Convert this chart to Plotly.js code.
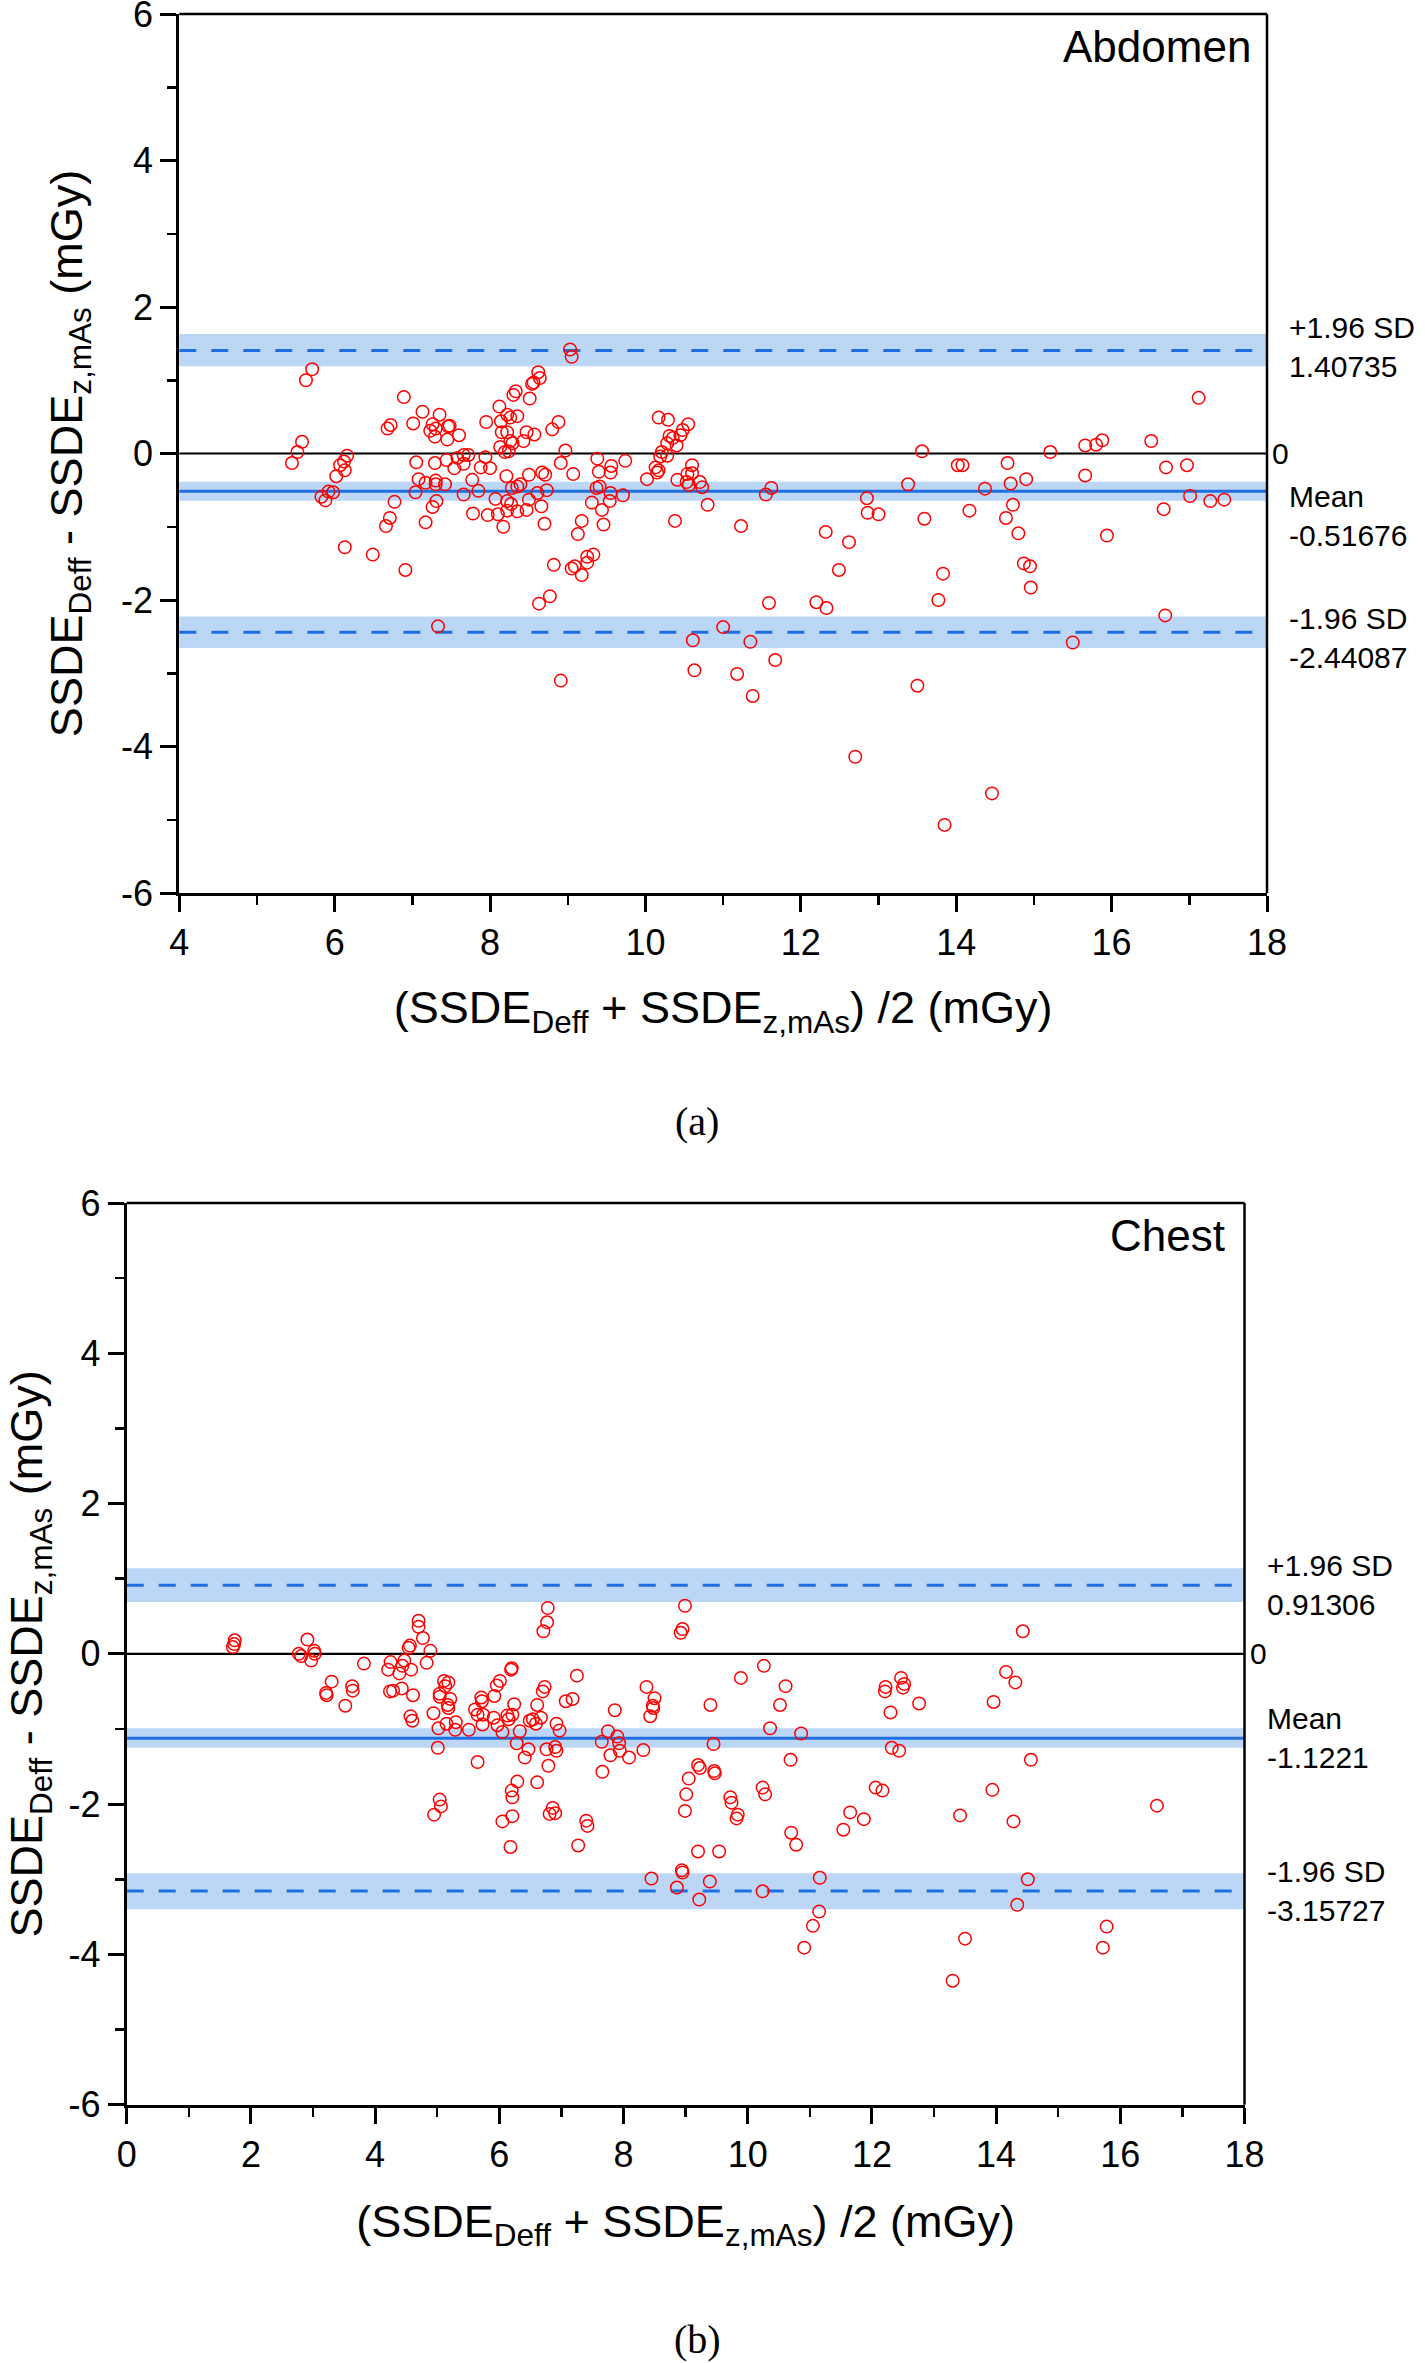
<!DOCTYPE html>
<html>
<head>
<meta charset="utf-8">
<script src="https://cdn.plot.ly/plotly-3.0.1.min.js"></script>
<style>html,body{margin:0;padding:0;background:#fff;}#chart{width:1425px;height:2363px;}</style>
</head>
<body>
<div id="chart"></div>
<script>
// ---- Abdomen (panel a) ----
const abdomenX = [9.03,9.05,5.71,5.63,6.89,7.13,7.35,7.01,6.72,6.68,7.26,7.23,7.30,7.29,7.46,7.48,7.45,7.60,5.58,5.52,5.45,6.16,6.12,6.07,6.13,6.02,5.92,5.83,5.88,5.98,7.05,7.29,7.44,7.54,7.08,7.17,7.30,7.30,7.42,7.04,6.77,7.31,7.26,6.71,6.66,7.17,6.13,6.49,6.91,7.33,7.66,7.72,7.58,7.66,7.88,7.94,8.00,7.95,8.12,8.14,8.22,8.26,8.35,8.30,8.33,8.51,8.54,8.56,8.62,8.64,8.15,8.22,8.26,8.29,8.43,8.47,8.57,8.13,8.19,8.24,8.21,8.28,8.39,8.35,8.50,8.67,8.71,8.61,8.73,8.07,8.22,8.27,8.50,8.10,8.22,8.35,8.47,7.97,7.78,8.17,8.66,8.70,7.66,7.85,7.77,8.80,8.88,8.97,8.91,9.07,9.38,9.40,9.55,9.56,9.74,9.37,9.41,9.55,9.71,9.31,9.44,9.54,9.46,9.18,9.13,8.82,9.33,9.25,9.25,9.05,9.09,9.18,8.77,8.63,8.91,
10.17,10.29,10.55,10.48,10.45,10.31,10.35,10.40,10.28,10.21,10.28,10.19,10.13,10.17,10.15,10.02,10.60,10.60,10.54,10.41,10.53,10.56,10.70,10.73,10.80,10.38,11.55,11.62,11.23,11.59,11.00,10.61,10.63,11.35,11.67,11.18,11.38,12.32,12.62,12.49,12.20,12.33,12.70,12.85,12.86,13.00,13.38,13.56,13.59,13.50,13.83,13.77,13.85,
14.02,14.08,14.66,14.37,14.70,14.90,14.17,14.73,14.64,14.80,14.87,14.95,14.96,14.46,15.21,15.66,15.80,15.88,15.66,15.94,15.50,16.51,16.70,16.97,16.67,17.01,17.27,17.45,17.12,16.69];
const abdomenY = [1.42,1.32,1.15,1.00,0.77,0.57,0.53,0.41,0.39,0.34,0.40,0.31,0.34,0.23,0.37,0.38,0.19,0.25,0.16,0.02,-0.13,-0.03,-0.11,-0.16,-0.23,-0.31,-0.52,-0.59,-0.64,-0.53,-0.12,-0.13,-0.09,-0.20,-0.35,-0.40,-0.37,-0.42,-0.42,-0.53,-0.66,-0.65,-0.73,-0.88,-0.99,-0.94,-1.28,-1.38,-1.59,-2.36,-0.02,-0.02,-0.06,-0.14,-0.19,-0.05,-0.20,0.43,0.64,0.44,0.53,0.49,0.51,0.80,0.85,0.75,0.95,0.97,1.11,1.03,0.29,0.29,0.17,0.14,0.17,0.29,0.26,0.09,0.02,0.03,-0.31,-0.47,-0.42,-0.45,-0.29,-0.26,-0.29,-0.54,-0.50,-0.62,-0.65,-0.69,-0.63,-0.83,-0.78,-0.79,-0.77,-0.84,-0.82,-1.00,-0.72,-0.96,-0.56,-0.51,-0.36,0.33,0.43,0.04,-0.13,-0.28,-0.07,-0.25,-0.26,-0.17,-0.10,-0.47,-0.45,-0.54,-0.57,-0.67,-0.77,-0.65,-0.97,-0.92,-1.10,-1.52,-1.38,-1.41,-1.49,-1.57,-1.54,-1.66,-1.95,-2.05,-3.10,
0.49,0.46,0.40,0.32,0.25,0.24,0.21,0.11,0.14,0.02,-0.03,-0.04,-0.19,-0.23,-0.26,-0.35,-0.16,-0.27,-0.28,-0.36,-0.39,-0.43,-0.39,-0.46,-0.70,-0.92,-0.56,-0.47,-0.99,-2.04,-2.37,-2.55,-2.96,-2.57,-2.82,-3.01,-3.31,-1.07,-1.21,-1.59,-2.03,-2.11,-4.14,-0.61,-0.81,-0.83,-0.42,0.03,-0.89,-3.17,-1.64,-2.00,-5.07,
-0.16,-0.16,-0.13,-0.48,-0.41,-0.35,-0.78,-0.70,-0.88,-1.09,-1.50,-1.54,-1.83,-4.64,0.02,0.11,0.12,0.18,-0.30,-1.12,-2.58,0.17,-0.19,-0.16,-0.76,-0.58,-0.65,-0.63,0.76,-2.21];
const abdomenLimits = [1.40735, -0.51676, -2.44087];           // +1.96 SD, mean, -1.96 SD
const abdomenBandLow  = [1.19, -0.645, -2.655];                // confidence band lower edge
const abdomenBandHigh = [1.63, -0.385, -2.225];                // confidence band upper edge
const abdomenLabels = ["+1.96 SD<br>1.40735", "Mean<br>-0.51676", "-1.96 SD<br>-2.44087"];

// ---- Chest (panel b) ----
const chestX = [1.74,1.73,1.71,2.91,2.77,2.81,3.02,2.97,3.03,3.82,3.30,3.21,3.22,3.63,3.64,3.52,4.25,4.21,4.47,4.44,4.39,4.58,4.54,4.56,4.70,4.70,4.77,4.89,4.83,4.24,4.29,4.43,4.61,4.57,4.60,4.94,5.02,5.01,5.04,5.11,5.18,5.04,5.13,5.21,5.17,5.18,5.15,5.30,5.29,5.51,5.04,5.06,4.95,5.71,5.72,5.61,5.65,5.74,5.73,5.92,5.96,6.01,6.19,6.20,6.24,5.91,5.97,6.05,6.13,6.15,6.21,6.33,6.28,5.65,6.29,6.20,6.21,6.21,6.05,6.18,6.41,6.47,6.49,
6.61,6.70,6.73,6.54,6.59,6.67,6.92,6.97,6.76,6.90,6.92,6.79,6.61,6.86,6.81,6.90,7.40,7.42,7.27,6.78,6.77,6.71,7.25,7.07,7.18,7.86,7.75,7.65,7.90,7.93,7.94,7.79,8.09,8.32,7.66,8.37,8.50,8.47,8.48,8.43,8.99,8.95,8.92,9.40,9.45,9.20,9.23,9.05,9.01,8.99,9.20,9.46,9.47,9.54,8.94,8.95,8.45,8.86,9.22,9.39,9.72,9.74,9.84,9.82,9.89,10.26,10.24,10.28,10.24,10.36,10.52,10.61,10.69,10.70,10.78,10.86,11.16,11.15,11.05,10.91,
14.43,14.16,14.31,13.96,12.47,12.52,12.50,12.22,12.21,12.76,12.30,12.32,12.44,14.56,12.06,12.17,13.94,11.65,11.87,11.54,13.42,14.28,16.59,14.51,14.34,13.50,15.78,15.72,13.30];
const chestY = [0.18,0.13,0.09,0.19,0.00,-0.03,0.04,-0.09,0.00,-0.13,-0.37,-0.52,-0.55,-0.43,-0.49,-0.69,-0.11,-0.21,-0.09,-0.16,-0.26,-0.21,0.08,0.11,0.44,0.36,0.21,0.04,-0.12,-0.50,-0.49,-0.46,-0.55,-0.83,-0.89,-0.79,-0.99,-1.25,-0.53,-0.36,-0.38,-0.57,-0.43,-0.60,-0.68,-0.72,-0.93,-0.91,-1.01,-1.01,-1.94,-2.03,-2.14,-0.58,-0.63,-0.74,-0.81,-0.81,-0.94,-0.56,-0.42,-0.36,-0.21,-0.19,-0.67,-0.85,-0.95,-1.04,-0.82,-0.87,-0.81,-1.03,-1.19,-1.44,-1.70,-1.82,-1.91,-2.16,-2.23,-2.57,-1.38,-1.27,-0.89,
-0.68,-0.50,-0.44,-0.87,-0.93,-0.85,-0.93,-1.02,-1.27,-1.24,-1.29,-1.49,-1.71,-2.05,-2.13,-2.12,-2.22,-2.29,-2.55,0.61,0.42,0.30,-0.29,-0.63,-0.60,-0.75,-1.03,-1.17,-1.10,-1.19,-1.29,-1.35,-1.38,-1.28,-1.57,-0.44,-0.59,-0.69,-0.72,-0.83,0.64,0.33,0.28,-0.68,-1.20,-1.48,-1.52,-1.66,-1.87,-2.09,-2.63,-1.56,-1.59,-2.63,-2.88,-2.91,-2.99,-3.11,-3.27,-3.03,-1.91,-1.98,-2.14,-2.19,-0.32,-0.16,-1.78,-1.87,-3.16,-0.99,-0.68,-0.43,-1.41,-2.38,-2.54,-1.06,-2.98,-3.43,-3.62,-3.91,
0.30,-0.24,-0.38,-0.64,-0.32,-0.40,-0.45,-0.44,-0.50,-0.66,-0.78,-1.25,-1.29,-1.41,-1.78,-1.82,-1.81,-2.11,-2.20,-2.34,-2.15,-2.23,-2.02,-3.00,-3.34,-3.79,-3.63,-3.91,-4.35];
const chestLimits = [0.91306, -1.1221, -3.15727];
const chestBandLow  = [0.69, -1.25, -3.40];
const chestBandHigh = [1.14, -0.99, -2.92];
const chestLabels = ["+1.96 SD<br>0.91306", "Mean<br>-1.1221", "-1.96 SD<br>-3.15727"];

// ---- tick labels (plain hyphen minus, as in the reference) ----
const yTickVals = [-6, -4, -2, 0, 2, 4, 6];
const yTickText = ["-6", "-4", "-2", "0", "2", "4", "6"];
const xTickValsA = [4, 6, 8, 10, 12, 14, 16, 18];
const xTickValsB = [0, 2, 4, 6, 8, 10, 12, 14, 16, 18];

const panelNames = ["Abdomen", "Chest"];
const captions = ["(a)", "(b)"];
const xTitle = "(SSDE<sub>Deff</sub> + SSDE<sub>z,mAs</sub>) /2 (mGy)";
const yTitle = "SSDE<sub>Deff</sub> - SSDE<sub>z,mAs</sub> (mGy)";

const FONT = "Liberation Sans, Arial, Helvetica, sans-serif";
const BLUE = "#1F6FE0";
const BAND = "#BCD6F5";

const markerStyle = {symbol: "circle-open", size: 12.5, color: "#FF0000", line: {width: 1.5, color: "#FF0000"}};
const traces = [
  {x: abdomenX, y: abdomenY, xaxis: "x", yaxis: "y", type: "scatter", mode: "markers", marker: markerStyle, hoverinfo: "x+y"},
  {x: chestX, y: chestY, xaxis: "x2", yaxis: "y2", type: "scatter", mode: "markers", marker: markerStyle, hoverinfo: "x+y"}
];

function axisCommon(extra) {
  return Object.assign({
    showgrid: false, zeroline: false, showline: true, linecolor: "#000", linewidth: 3,
    ticks: "outside", ticklen: 16, tickwidth: 3, tickcolor: "#000",
    minor: {ticks: "outside", ticklen: 9, tickwidth: 2.5, tickcolor: "#000", dtick: 1},
    tickfont: {family: FONT, size: 36, color: "#000"}, automargin: false, fixedrange: true,
    ticklabeloverflow: "allow"
  }, extra);
}

const shapes = [];
const annotations = [];
function addPanel(xr, yr, limits, lo, hi, labels, name, yshifts, nameShift) {
  const xd = xr + " domain", yd = yr + " domain";
  for (let i = 0; i < limits.length; i++) {
    shapes.push({type: "rect", xref: xd, yref: yr, x0: 0, x1: 1, y0: lo[i], y1: hi[i],
                 fillcolor: BAND, line: {width: 0}, layer: "below"});
  }
  for (let i = 0; i < limits.length; i++) {
    shapes.push({type: "line", xref: xd, yref: yr, x0: 0, x1: 1, y0: limits[i], y1: limits[i],
                 line: {color: BLUE, width: 3, dash: i === 1 ? "solid" : "17px,15px"}, layer: "below"});
    annotations.push({xref: xd, yref: yr, x: 1, y: limits[i], xanchor: "left", yanchor: "middle",
                      xshift: 20, yshift: yshifts[i], align: "left", showarrow: false, text: labels[i],
                      font: {family: FONT, size: 30, color: "#000"}});
  }
  // zero line
  shapes.push({type: "line", xref: xd, yref: yr, x0: 0, x1: 1, y0: 0, y1: 0,
               line: {color: "#000", width: 2.2}, layer: "below"});
  annotations.push({xref: xd, yref: yr, x: 1, y: 0, xanchor: "left", yanchor: "middle", xshift: 3,
                    showarrow: false, text: "0", font: {family: FONT, size: 30, color: "#000"}});
  // top & right frame
  shapes.push({type: "line", xref: xd, yref: yd, x0: 0, x1: 1, y0: 1, y1: 1, line: {color: "#000", width: 2.5}});
  shapes.push({type: "line", xref: xd, yref: yd, x0: 1, x1: 1, y0: 0, y1: 1, line: {color: "#000", width: 2.5}});
  annotations.push({xref: xd, yref: yd, x: 1, y: 1, xanchor: "right", yanchor: "top", xshift: nameShift[0], yshift: nameShift[1],
                    showarrow: false, text: name, font: {family: FONT, size: 44, color: "#000"}});
}
addPanel("x", "y", abdomenLimits, abdomenBandLow, abdomenBandHigh, abdomenLabels, panelNames[0], [3, -25, -6], [-14, -6]);
addPanel("x2", "y2", chestLimits, chestBandLow, chestBandHigh, chestLabels, panelNames[1], [0, 0, 0], [-18, -6]);

const capFont = {family: "Liberation Serif, DejaVu Serif, serif", size: 40, color: "#000"};
annotations.push({xref: "paper", yref: "paper", x: 697/1425, y: 1 - 1122/2363, xanchor: "center", yanchor: "middle",
                  showarrow: false, text: captions[0], font: capFont});
annotations.push({xref: "paper", yref: "paper", x: 697/1425, y: 1 - 2339/2363, xanchor: "center", yanchor: "middle",
                  showarrow: false, text: captions[1], font: capFont});

const titleFont = {family: FONT, size: 45, color: "#000"};
const layout = {
  width: 1425, height: 2363, margin: {l: 0, r: 0, t: 0, b: 0},
  paper_bgcolor: "#fff", plot_bgcolor: "#fff", showlegend: false,
  xaxis: axisCommon({domain: [179.3/1425, 1267/1425], range: [4, 18], tickmode: "array", tickvals: xTickValsA, anchor: "y",
    title: {text: xTitle, font: titleFont, standoff: 30}}),
  yaxis: axisCommon({domain: [1 - 893/2363, 1 - 14/2363], range: [-6, 6], tickmode: "array", tickvals: yTickVals, ticktext: yTickText, anchor: "x",
    title: {text: yTitle, font: titleFont, standoff: 25}}),
  xaxis2: axisCommon({domain: [126.7/1425, 1244.5/1425], range: [0, 18], tickmode: "array", tickvals: xTickValsB, anchor: "y2",
    title: {text: xTitle, font: titleFont, standoff: 32}}),
  yaxis2: axisCommon({domain: [1 - 2104.7/2363, 1 - 1203/2363], range: [-6, 6], tickmode: "array", tickvals: yTickVals, ticktext: yTickText, anchor: "x2",
    title: {text: yTitle, font: titleFont, standoff: 12}}),
  shapes: shapes,
  annotations: annotations
};

Plotly.newPlot("chart", traces, layout, {staticPlot: true, displayModeBar: false});
</script>
</body>
</html>
